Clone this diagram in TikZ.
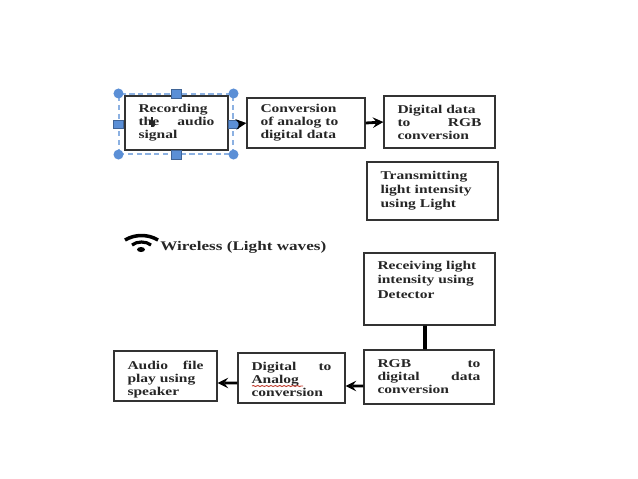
\documentclass[tikz,border=0pt]{standalone}
\usepackage{fontspec}
\setmainfont[FakeStretch=1.3]{Liberation Serif}
\usepackage{tikz}
\usetikzlibrary{arrows,positioning}
\usetikzlibrary{decorations.pathmorphing}
\definecolor{boxgray}{HTML}{333333}
\definecolor{inkgray}{HTML}{262626}
\definecolor{handleblue}{HTML}{5B8FD6}
\definecolor{squigred}{HTML}{C0392B}
\tikzset{block/.style={draw=boxgray,line width=0.7pt,inner xsep=0.27cm,inner ysep=0pt,align=left,text=inkgray,font=\bfseries\fontsize{6.8}{7.4}\selectfont}}
\tikzset{link/.style={draw=black,line width=1.6pt}}
\tikzset{handledot/.style={circle,fill=handleblue,minimum size=0.2cm,inner sep=0pt}}
\tikzset{handlebox/.style={rectangle,fill=handleblue,draw=handleblue!70!black,line width=0.2pt,minimum width=0.2cm,minimum height=0.17cm,inner sep=0pt}}
\begin{document}
\begin{tikzpicture}[x=0.02cm,y=-0.02cm]
% \draw[help lines] (0,0) grid (638,478);
\useasboundingbox (0,0) rectangle (638,478);
\node (sel) [draw=handleblue!70,densely dashed,line width=0.6pt,minimum width=2.28cm,minimum height=1.2cm,inner sep=0pt] at (176,124) {};
\node (rec) [block,text width=1.52cm,minimum height=1.08cm] at (176.5,123) {Recording\\the\hfill audio\\signal};
\node (conv) [block,text width=1.82cm,minimum height=1cm] at (306,123) {Conversion\\of analog to\\digital data};
\node (dig) [block,text width=1.68cm,minimum height=1.04cm] at (439.5,122) {Digital data\\to\hfill RGB\\conversion};
\node (trans) [block,text width=2.08cm,minimum height=1.16cm] at (432.5,191) {Transmitting\\[0.5pt]light intensity\\[0.5pt]using Light};
\node (recv) [block,text width=2.08cm,minimum height=1.44cm] at (429.5,289) {Receiving light\\[1pt]intensity using\\[1pt]Detector\\[3.2pt]~};
\node (rgb) [block,text width=2.06cm,minimum height=1.08cm] at (429,377) {RGB\hfill to\\digital\hfill data\\conversion};
\node (dta) [block,text width=1.6cm,minimum height=1cm] at (291.5,378) {\rule{0pt}{6.2pt}Digital\hfill to\\Analog\\conversion};
\node (aud) [block,text width=1.52cm,minimum height=1cm] at (165.5,376) {\rule{0pt}{8.6pt}Audio\hfill file\\play using\\speaker};
\node (wl) [right,inner sep=0pt,text=inkgray,font=\bfseries\fontsize{7.5}{9}\selectfont] at (160,247) {Wireless (Light waves)};
%
\foreach \a/\i in {north west/a,north east/b,south west/c,south east/d}
  \node (hd\i) [handledot] at (sel.\a) {};
\foreach \a/\i in {north/a,south/b,west/c,east/d}
  \node (hb\i) [handlebox] at (sel.\a) {};
%
\draw[link,-stealth] (hbd.east) -- (conv.west);
\draw[link,-stealth] (conv.east) -- (dig.west);
\draw[link,line width=2.2pt] ([xshift=-0.09cm]recv.south) -- ([xshift=-0.08cm]rgb.north);
\draw[link,-stealth] ([yshift=-0.18cm]rgb.west) -- ([yshift=-0.16cm]dta.east);
\draw[link,-stealth] ([yshift=-0.1cm]dta.west) -- ([yshift=-0.14cm]aud.east);
%
\draw[squigred,line width=0.5pt,decorate,decoration={snake,amplitude=0.3pt,segment length=2.5pt}] (252,386) -- (303,386);
% wifi icon
\draw[black,line width=2pt] (125,240) .. controls (135,234) and (148,234) .. (158,240);
\draw[black,line width=1.8pt] (132,245) .. controls (137,241) and (146,241) .. (151,245);
\fill[black] (141,249.5) ellipse (4 and 2.5);
% pointer
\draw[inkgray,line width=0.8pt] (152,117) -- (152,127);
\fill[inkgray] (153,125) circle (2);
\end{tikzpicture}
\end{document}
